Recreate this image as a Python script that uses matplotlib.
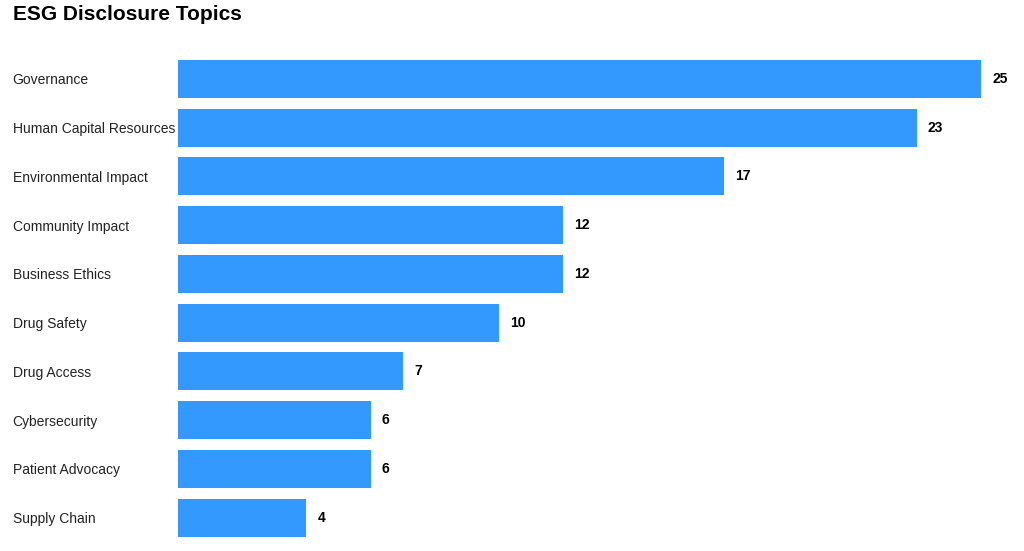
import matplotlib.pyplot as plt

topics = ['Governance', 'Human Capital Resources', 'Environmental Impact',
          'Community Impact', 'Business Ethics', 'Drug Safety', 'Drug Access',
          'Cybersecurity', 'Patient Advocacy', 'Supply Chain']
counts = [25, 23, 17, 12, 12, 10, 7, 6, 6, 4]

plt.rcParams['font.family'] = ['Liberation Sans', 'DejaVu Sans']
fig = plt.figure(figsize=(10.24, 5.51), dpi=100)
ax = fig.add_axes([178 / 1024, 0.0165, (981 - 178) / 1024, 0.8845])

pos = list(range(len(topics)))
ax.barh(pos, counts, height=0.78, color='#3399ff')
ax.set_xlim(0, 25)
ax.set_ylim(len(topics) - 0.5, -0.5)
ax.set_yticks(pos)
ax.set_yticklabels(topics, ha='left', fontsize=10, color='#222222')
ax.tick_params(axis='y', length=0, pad=119)
ax.set_xticks([])
for s in ax.spines.values():
    s.set_visible(False)

for p, c in zip(pos, counts):
    ax.annotate(str(c), (c, p), xytext=(8, 0), textcoords='offset points',
                va='center', ha='left', fontsize=10, fontweight='bold')

fig.text(13 / 1024, 1 - 15 / 551, 'ESG Disclosure Topics', fontsize=15,
         fontweight='bold', va='center', ha='left')

fig.savefig('out.png', dpi=100)
